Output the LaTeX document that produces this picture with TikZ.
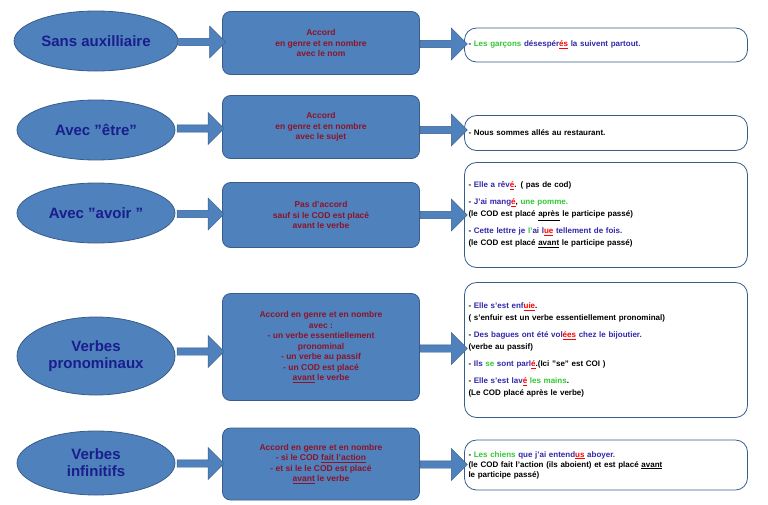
\documentclass[tikz,border=0pt]{standalone}
\usepackage{fontspec}
\setmainfont{Liberation Sans}
\usetikzlibrary{shapes.geometric,shapes.arrows,positioning,calc}
\definecolor{boxblue}{RGB}{79,129,189}
\definecolor{edgeblue}{RGB}{56,93,138}
\definecolor{navy}{RGB}{25,30,140}
\definecolor{wine}{RGB}{140,20,40}
\definecolor{vblue}{RGB}{50,40,170}
\definecolor{vgreen}{RGB}{50,200,50}
\newcommand*{\rd}[1]{\textcolor{red}{\underline{#1}}}
\newcommand*{\bl}[1]{\textcolor{vblue}{#1}}
\newcommand*{\gr}[1]{\textcolor{vgreen}{#1}}

\begin{document}
\begin{tikzpicture}[x=1pt, y=-1pt, font=\bfseries]
    \tikzset{case/.style={ellipse, fill=boxblue, draw=edgeblue, thick, text=navy,
               minimum width=158pt, minimum height=60pt, align=center, font=\bfseries\fontsize{15}{17}\selectfont},
             rule/.style={rectangle, rounded corners=8pt, fill=boxblue, draw=edgeblue, thick, text=wine,
               minimum width=197pt, align=center, font=\bfseries\fontsize{8.5}{10.5}\selectfont},
             ex/.style={rectangle, rounded corners=12pt, fill=white, draw=edgeblue, thick,
               minimum width=283pt, text width=275pt, align=left, font=\bfseries\fontsize{8}{12}\selectfont},
             go/.style={single arrow, fill=boxblue, draw=edgeblue, minimum height=47pt,
               minimum width=32pt, single arrow head extend=4pt, inner sep=1pt}}
    \path[use as bounding box] (0,0) rectangle (768,504);
    % sans auxiliaire
    \node[case] (sans) at (96,41) {Sans auxilliaire};
    \node[rule, minimum height=63pt] (sansR) at (321,43) {Accord\\en genre et en nombre\\avec le nom};
    \node[ex, minimum height=34pt] (sansE) at (606,45) {- \gr{Les garçons} \bl{désespér\rd{és}} \bl{la suivent partout.}};
    % etre
    \node[case] (etre) at (96,130) {Avec "être"};
    \node[rule, minimum height=63pt] (etreR) at (321,127) {Accord\\en genre et en nombre\\avec le sujet};
    \node[ex, minimum height=35pt] (etreE) at (606,133) {- Nous sommes allés au restaurant.};
    % avoir
    \node[case] (avoir) at (96,213) {Avec "avoir "};
    \node[rule, minimum height=65pt] (avoirR) at (321,215) {Pas d'accord\\sauf si le COD est placé\\avant le verbe};
    \node[ex, minimum height=105pt] (avoirE) at (606,215) {- \bl{Elle a rêv\rd{é}}. ( pas de cod)\\[5pt]
      - \bl{J'ai mang\rd{é}}, \gr{une pomme.}\\ (le COD est placé \underline{après} le participe passé)\\[5pt]
      - \bl{Cette lettre je} \gr{l'}\bl{ai l\rd{ue} tellement de fois.}\\ (le COD est placé \underline{avant} le participe passé)};
    % pronominaux
    \node[case, minimum height=78pt] (pron) at (96,356) {Verbes\\pronominaux};
    \node[rule, minimum height=107pt] (pronR) at (321,347) {Accord en genre et en nombre\\avec :\\- un verbe essentiellement\\pronominal\\- un verbe au passif\\- un COD est placé\\\underline{avant} le verbe};
    \node[ex, minimum height=135pt] (pronE) at (606,350) {- \bl{Elle s'est enf\rd{uie}}.\\( s'enfuir est un verbe essentiellement pronominal)\\[5pt]
      - \bl{Des bagues ont été vol\rd{ées} chez le bijoutier.}\\ (verbe au passif)\\[5pt]
      - \bl{Ils} \gr{se} \bl{sont parl\rd{é}}.(Ici "se" est COI )\\[5pt]
      - \bl{Elle s'est lav\rd{é}} \gr{les mains}.\\(Le COD placé après le verbe)};
    % infinitifs
    \node[case, minimum height=64pt] (inf) at (96,463) {Verbes\\infinitifs};
    \node[rule, minimum height=72pt] (infR) at (321,464) {Accord en genre et en nombre\\- si le COD \underline{fait l'action}\\- et si le le COD est placé\\\underline{avant} le verbe};
    \node[ex, minimum height=50pt, font=\bfseries\fontsize{8}{10}\selectfont] (infE) at (606,465) {- \gr{Les chiens} \bl{que j'ai entend\rd{us} aboyer.}\\(le COD fait l'action (ils aboient) et est placé \underline{avant}\\le participe passé)};
    % block arrows
    \foreach \a/\b in {sans/sansR, etre/etreR, avoir/avoirR, pron/pronR, inf/infR,
                       sansR/sansE, etreR/etreE, avoirR/avoirE, pronR/pronE, infR/infE}
      \node[go] at ($(\a.east)!0.5!(\b.west)$) {};
\end{tikzpicture}
\end{document}
